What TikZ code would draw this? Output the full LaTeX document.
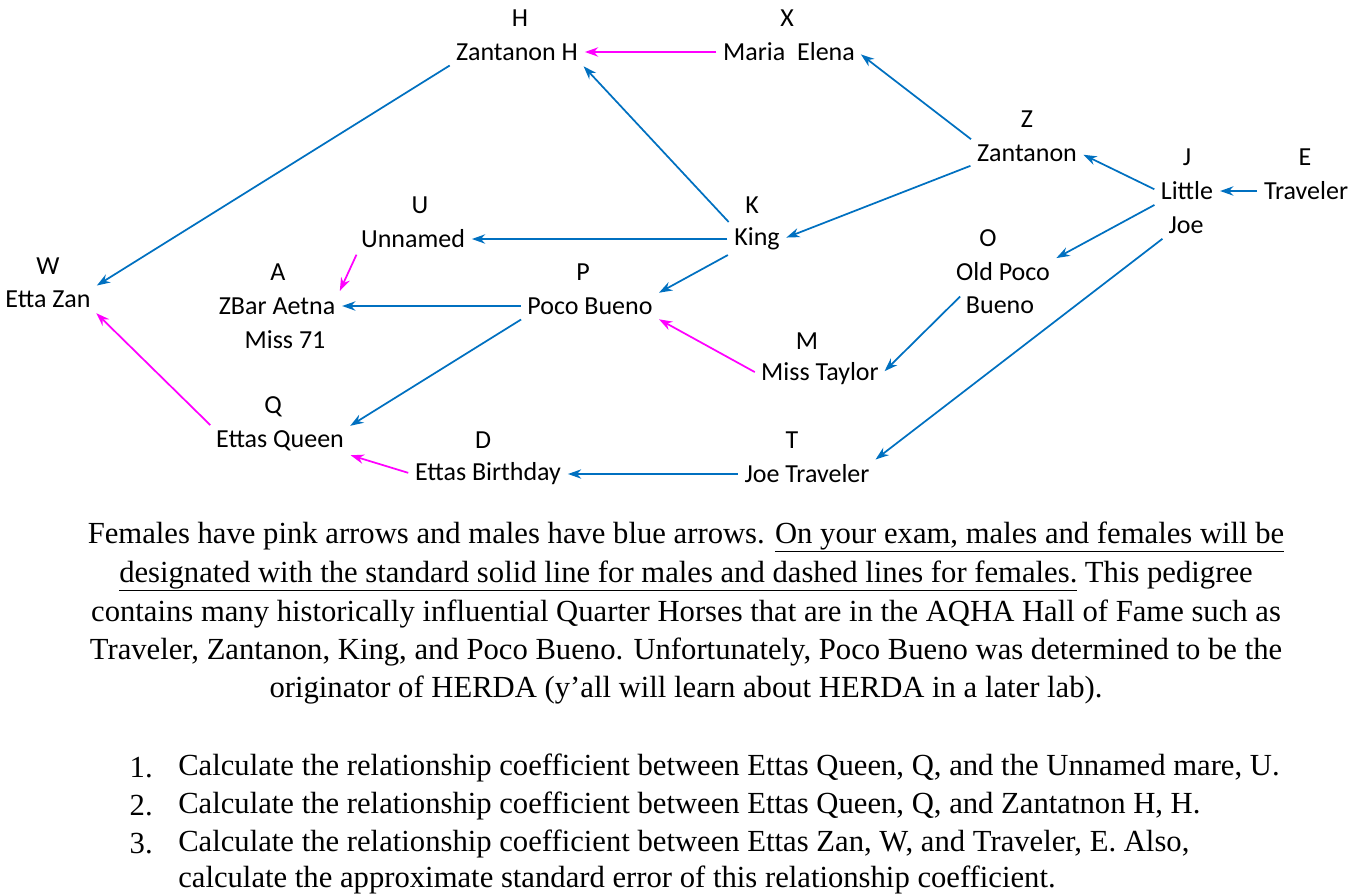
\documentclass[tikz,border=0pt]{standalone}
\usepackage{fontspec}
\setmainfont{Liberation Serif}
\newfontfamily\lab{Carlito}
\usetikzlibrary{arrows.meta}
\definecolor{mblue}{RGB}{0,112,192}
\definecolor{mpink}{RGB}{255,0,255}
\begin{document}
\begin{tikzpicture}[x=0.75pt,y=-0.75pt,
 lb/.style={font=\lab\fontsize{19.5}{21}\selectfont,inner sep=2pt,anchor=center},
 bl/.style={draw=mblue,line width=1.3pt,-{Stealth[length=10pt,width=7pt]},shorten <=3pt,shorten >=3pt},
 pk/.style={draw=mpink,line width=1.3pt,-{Stealth[length=10pt,width=7pt]},shorten <=3pt,shorten >=3pt},
 tx/.style={font=\fontsize{23}{27}\selectfont,inner sep=0pt}]
\useasboundingbox (0,0) rectangle (1359,893);
\node[lb] (Hl) at (520,18) {H}; \node[lb] (H) at (517,52) {Zantanon H};
\node[lb] (Xl) at (787,18) {X}; \node[lb] (X) at (789,52) {Maria\ \ Elena};
\node[lb] (Zl) at (1027,119) {Z}; \node[lb] (Z) at (1027,153) {Zantanon};
\node[lb] (Jl) at (1187,157) {J}; \node[lb] (J) at (1187,191) {Little}; \node[lb] (J2) at (1186,225) {Joe};
\node[lb] (El) at (1305,157) {E}; \node[lb] (E) at (1306,191) {Traveler};
\node[lb] (Kl) at (752,205) {K}; \node[lb] (K) at (757,239) {King};
\node[lb] (Ul) at (420,205) {U}; \node[lb] (U) at (413,239) {Unnamed};
\node[lb] (Ol) at (988,238) {O}; \node[lb] (O) at (1003,272) {Old Poco}; \node[lb] (O2) at (1000,305) {Bueno};
\node[lb] (Wl) at (48,266) {W}; \node[lb] (W) at (48,299) {Etta Zan};
\node[lb] (Al) at (278,272) {A}; \node[lb] (A) at (277,306) {ZBar Aetna}; \node[lb] (A2) at (285,340) {Miss 71};
\node[lb] (Pl) at (583,272) {P}; \node[lb] (P) at (590,306) {Poco Bueno};
\node[lb] (Ml) at (807,341) {M}; \node[lb] (M) at (820,374) {Miss Taylor};
\node[lb] (Ql) at (273,407) {Q}; \node[lb] (Q) at (280,441) {Ettas Queen};
\node[lb] (Dl) at (483,440) {D}; \node[lb] (D) at (488,474) {Ettas Birthday};
\node[lb] (Tl) at (792,440) {T}; \node[lb] (T) at (807,474) {Joe Traveler};
\draw[bl] (H.south west) -- (W.north east);
\draw[pk] (X) -- (H);
\draw[bl] (Z.north west) -- (X.east);
\draw[bl] (K.north west) -- (H.south east);
\draw[bl] (Z.south west) -- (K.east);
\draw[bl] (J.west) -- (Z.east);
\draw[bl] (E) -- (J);
\draw[bl] (K) -- (U);
\draw[bl] (J.south west) -- (O.north east);
\draw[pk] (U.south west) -- (A.north east);
\draw[bl] (K.south west) -- (P.north east);
\draw[bl] (P) -- (A);
\draw[bl] (O2.north west) -- (M.east);
\draw[pk] (M.west) -- (P.south east);
\draw[bl] (P.south west) -- (Q.north east);
\draw[pk] (Q.north west) -- (W.south east);
\draw[bl] (J2.south west) -- (T.north east);
\draw[bl] (T) -- (D);
\draw[pk] (D.west) -- (Q.south east);
\node[tx] (p1) at (686,537) {Females have pink arrows and males have blue arrows. \underline{On your exam, males and females will be}};
\node[tx] (p2) at (686,576) {\underline{designated with the standard solid line for males and dashed lines for females.} This pedigree};
\node[tx] (p3) at (686,614) {contains many historically influential Quarter Horses that are in the AQHA Hall of Fame such as};
\node[tx] (p4) at (686,652) {Traveler, Zantanon, King, and Poco Bueno. Unfortunately, Poco Bueno was determined to be the};
\node[tx] (p5) at (686,690) {originator of HERDA (y'all will learn about HERDA in a later lab).};
\node[tx,anchor=east] (n1) at (153,768) {1.};
\node[tx,anchor=west] (i1) at (178,768) {Calculate the relationship coefficient between Ettas Queen, Q, and the Unnamed mare, U.};
\node[tx,anchor=east] (n2) at (153,806) {2.};
\node[tx,anchor=west] (i2) at (178,806) {Calculate the relationship coefficient between Ettas Queen, Q, and Zantatnon H, H.};
\node[tx,anchor=east] (n3) at (153,844) {3.};
\node[tx,anchor=west] (i3) at (178,844) {Calculate the relationship coefficient between Ettas Zan, W, and Traveler, E. Also,};
\node[tx,anchor=west] (i4) at (178,880) {calculate the approximate standard error of this relationship coefficient.};
\end{tikzpicture}
\end{document}
